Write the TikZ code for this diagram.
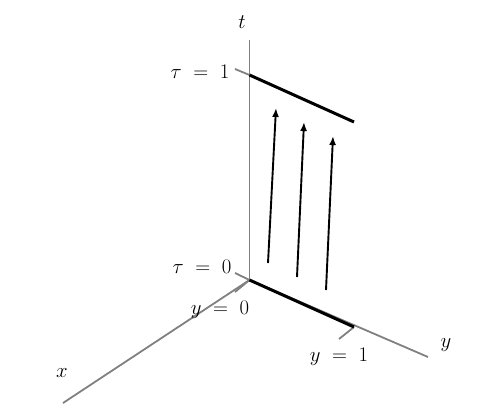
\documentclass[tikz,border=0pt]{standalone}
\usepackage{xcolor}
\usepackage{tikz}
\usetikzlibrary{arrows.meta}
\definecolor{axisgray}{RGB}{128,128,128}
\tikzset{
  axisline/.style={axisgray, line width=1.8pt},
  edgeline/.style={black, line width=3pt},
  flowarrow/.style={black, line width=1.9pt, -{Latex[length=9pt,width=7pt]}},
  lbl/.style={font=\fontsize{22}{26}\selectfont, inner sep=0pt}
}

\begin{document}
\begin{tikzpicture}[x=1pt,y=-1pt]
\useasboundingbox (0,0) rectangle (492,417);
% axes
\coordinate (O) at (249.5,280);
\coordinate (ttop) at (249.5,40);
\coordinate (xend) at (63,403);
\coordinate (yend) at (428,357);
\draw[axisline] (O) -- (ttop);
\draw[axisline] (O) -- (xend);
\draw[axisline] (O) -- (yend);
% ticks
\coordinate (T1) at (249.5,75);
\coordinate (Y1) at (354,327);
\coordinate (tick0) at (235,273);
\coordinate (tick1) at (235,69);
\coordinate (ticky0) at (235,292);
\coordinate (ticky1) at (339,339);
\draw[axisline] (O) -- (tick0);
\draw[axisline] (T1) -- (tick1);
\draw[axisline] (O) -- (ticky0);
\draw[axisline] (Y1) -- (ticky1);
% edges of the strip
\coordinate (T1end) at (354,122);
\draw[edgeline] (O) -- (Y1);
\draw[edgeline] (T1) -- (T1end);
% flow arrows
\coordinate (a1s) at (268,263);
\coordinate (a1e) at (276,108);
\coordinate (a2s) at (297,277);
\coordinate (a2e) at (304,122);
\coordinate (a3s) at (326,290);
\coordinate (a3e) at (333,136);
\draw[flowarrow] (a1s) -- (a1e);
\draw[flowarrow] (a2s) -- (a2e);
\draw[flowarrow] (a3s) -- (a3e);
% labels
\node[lbl] (tlab) at (242,22) {$t$};
\node[lbl] (tau1) at (200,72) {$\tau \;=\; 1$};
\node[lbl] (tau0) at (202,267) {$\tau \;=\; 0$};
\node[lbl] (y0) at (220,310) {$y \;=\; 0$};
\node[lbl] (y1) at (339,357) {$y \;=\; 1$};
\node[lbl] (ylab) at (446,345) {$y$};
\node[lbl] (xlab) at (62,373) {$x$};
\end{tikzpicture}
\end{document}
